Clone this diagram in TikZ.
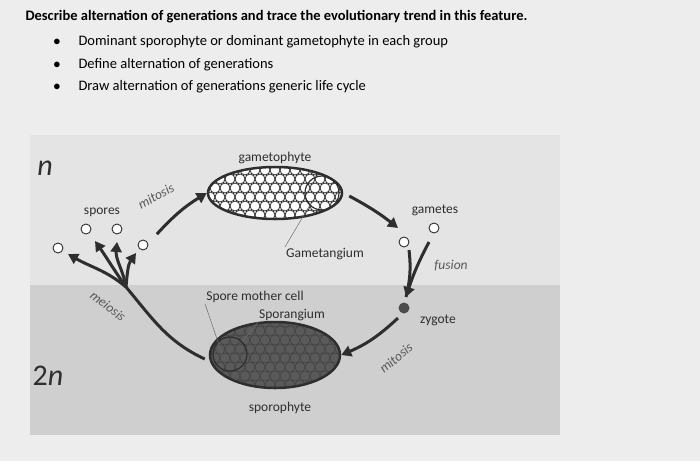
\documentclass[tikz,border=0pt]{standalone}
\usepackage{fontspec}
\setmainfont{Carlito}
\usetikzlibrary{arrows.meta,shapes.geometric}
\definecolor{page}{HTML}{EDEDED}
\definecolor{topband}{HTML}{E4E4E4}
\definecolor{botband}{HTML}{CFCFCF}
\definecolor{ink}{HTML}{2E2E2E}
\definecolor{sporo}{HTML}{5A5A5A}
\tikzset{
  lbl/.style={font=\fontsize{13.5}{15}\selectfont, text=ink, inner sep=1pt},
  ital/.style={lbl, font=\fontsize{13.5}{15}\selectfont\itshape, text=ink!80},
  arr/.style={draw=ink, line width=3pt, -{Triangle[length=10pt,width=11pt]}},
  cell/.style={circle, draw=ink, fill=white, line width=0.9pt, minimum size=10pt, inner sep=0pt},
  lead/.style={draw=ink!70, line width=0.5pt}
}
\begin{document}
\begin{tikzpicture}[x=1pt,y=-1pt]
\useasboundingbox (0,0) rectangle (700,461);
\fill[page] (0,0) rectangle (700,461);
\fill[topband] (30,135) rectangle (560,285);
\fill[botband] (30,285) rectangle (560,435);
% header
\node[anchor=west, font=\fontsize{14.5}{17}\selectfont\bfseries, text=black] (h) at (22,17) {Describe alternation of generations and trace the evolutionary trend in this feature.};
\foreach \y/\t [count=\i] in {42/Dominant sporophyte or dominant gametophyte in each group, 65/Define alternation of generations, 87/Draw alternation of generations generic life cycle}{
  \node[font=\fontsize{14}{16}\selectfont, text=black] (b\i) at (57,\y) {$\bullet$};
  \node[anchor=west, font=\fontsize{14.5}{17}\selectfont, text=black] (t\i) at (75,\y) {\t};
}
% ploidy
\node[font=\fontsize{30}{32}\selectfont\itshape, text=ink] (n) at (45,168) {n};
\node[font=\fontsize{30}{32}\selectfont, text=ink] (nn) at (48,376) {2\textit{n}};
% gametophyte
\begin{scope}
\clip (275,193) ellipse (67 and 26);
\fill[white] (275,193) ellipse (67 and 26);
\foreach \r in {0,...,5}{\foreach \c in {0,...,13}{
  \pgfmathsetmacro{\xx}{205+\c*10+mod(\r,2)*5}
  \draw[ink, line width=0.8pt] (\xx,170+\r*9) circle (5);}}
\end{scope}
\node[ellipse, minimum width=134, minimum height=52, draw=ink, line width=2.5pt, inner sep=0pt] (gam) at (275,193) {};
\node[circle, draw=ink, line width=1.2pt, minimum size=34, inner sep=0pt] (gtg) at (322,193) {};
\node[lbl] (gamL) at (275,158) {gametophyte};
\node[lbl] (gtgL) at (325,254) {Gametangium};
\draw[lead] (gtg.south west) -- (gtgL.north west);
% sporophyte
\begin{scope}
\clip (275,355) ellipse (65 and 33);
\fill[sporo] (275,355) ellipse (65 and 33);
\foreach \r in {0,...,7}{\foreach \c in {0,...,13}{
  \pgfmathsetmacro{\xx}{205+\c*10+mod(\r,2)*5}
  \draw[ink!90, line width=0.6pt] (\xx,322+\r*9) circle (5);}}
\end{scope}
\node[ellipse, minimum width=130, minimum height=66, draw=ink, line width=2.5pt, inner sep=0pt] (spo) at (275,355) {};
\node[circle, draw=ink, line width=1.2pt, minimum size=34, inner sep=0pt] (spg) at (230,354) {};
\node[lbl] (spoL) at (280,408) {sporophyte};
\node[lbl] (smc) at (255,297) {Spore mother cell};
\node[lbl] (spgL) at (292,315) {Sporangium};
\draw[lead] (222,354) -- (smc.south west);
\draw[lead] (spg.north east) -- (spgL.south west);
% spores
\node[cell] (s1) at (58,248) {};
\node[cell] (s2) at (86,229) {};
\node[cell] (s3) at (117,229) {};
\node[cell] (s4) at (143,245) {};
\node[lbl] (sporesL) at (102,212) {spores};
\node[ital, rotate=28] (mit1) at (156,196) {mitosis};
\node[ital, rotate=-38] (mei) at (108,306) {meiosis};
% meiosis arrows
\coordinate (split) at (126,287);
\draw[draw=ink, line width=3pt] (spo.west) ++(-4,4) to[out=155,in=-50] (split);
\draw[arr] (split) to[out=140,in=-30] (68,254);
\draw[arr] (split) to[out=125,in=-55] (95,241);
\draw[arr] (split) to[out=100,in=-95] (117,242);
\draw[arr] (split) to[out=85,in=-125] (136,253);
% mitosis to gametophyte
\draw[arr] (s4.north east) ++(10,-7) to[bend left=8] (gam.west);
% gametes
\draw[arr] (gam.east) ++(6,3) to[bend left=5] (398,228);
\node[cell] (g1) at (404,242) {};
\node[cell] (g2) at (434,228) {};
\node[lbl] (gamL2) at (435,210) {gametes};
\node[circle, fill=ink!85, minimum size=11pt, inner sep=0pt] (zy) at (404,308) {};
\coordinate (fz) at (406,297);
\draw[draw=ink, line width=3pt] (409,250) to[bend left=10] (fz);
\draw[arr] (429,242) to[bend right=5] (fz);
\node[ital] (fus) at (451,266) {fusion};
\node[lbl] (zyL) at (438,320) {zygote};
\draw[arr] (zy.south west) ++(-2,6) to[bend left=10] (spo.east);
\node[ital, rotate=40] (mit2) at (396,358) {mitosis};
\end{tikzpicture}
\end{document}
